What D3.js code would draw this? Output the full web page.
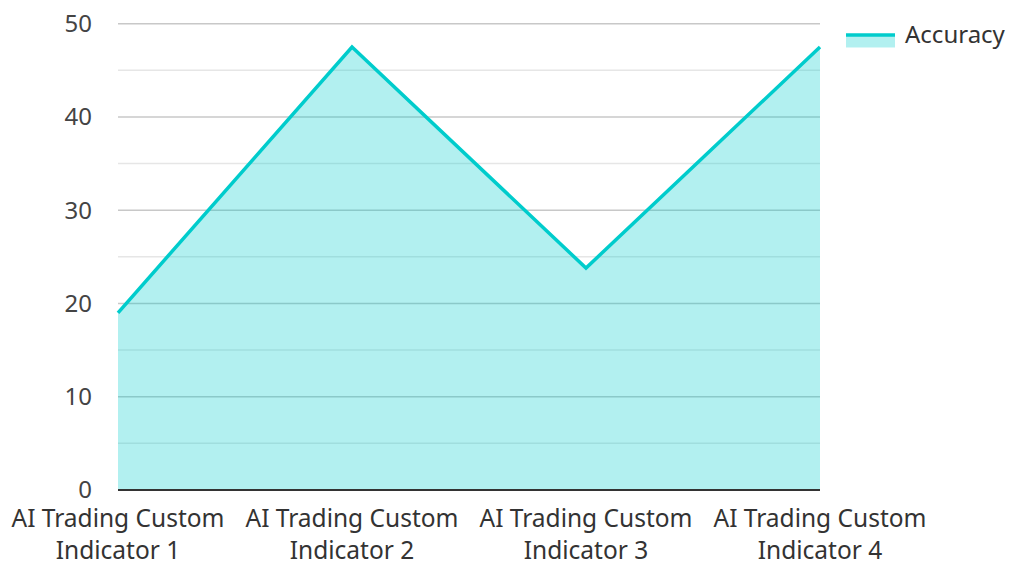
<!DOCTYPE html>
<html>
<head>
<meta charset="utf-8">
<script src="https://cdn.jsdelivr.net/npm/d3@7"></script>
<style>
  body { margin: 0; background: #fff; }
  text { font-family: "Noto Sans", sans-serif; }
</style>
</head>
<body>
<div id="chart"></div>
<script>
// chart data
const categories = ["AI Trading Custom Indicator 1", "AI Trading Custom Indicator 2",
                    "AI Trading Custom Indicator 3", "AI Trading Custom Indicator 4"];
const accuracy = [19, 47.5, 23.8, 47.5];
const yTicks = [0, 10, 20, 30, 40, 50];
const yMinorTicks = [5, 15, 25, 35, 45];
const seriesName = "Accuracy";

const width = 1010, height = 562;
const margin = { top: 23.7, right: 190, bottom: 72, left: 118 };

const svg = d3.select("#chart").append("svg")
    .attr("width", width)
    .attr("height", height);

const x = d3.scalePoint()
    .domain(categories)
    .range([margin.left, width - margin.right])
    .padding(0);

const y = d3.scaleLinear()
    .domain([0, 50])
    .range([height - margin.bottom, margin.top]);

// grid lines
svg.append("g").selectAll("line.minor")
    .data(yMinorTicks)
    .join("line")
    .attr("x1", margin.left).attr("x2", width - margin.right)
    .attr("y1", d => y(d)).attr("y2", d => y(d))
    .attr("stroke", "#e6e6e6").attr("stroke-width", 1.5);

svg.append("g").selectAll("line.major")
    .data(yTicks.filter(d => d > 0))
    .join("line")
    .attr("x1", margin.left).attr("x2", width - margin.right)
    .attr("y1", d => y(d)).attr("y2", d => y(d))
    .attr("stroke", "#c8c8c8").attr("stroke-width", 1.5);

// area + line
const pts = categories.map((c, i) => ({ c, v: accuracy[i] }));

svg.append("path")
    .datum(pts)
    .attr("fill", "#00cccc")
    .attr("fill-opacity", 0.3)
    .attr("d", d3.area().x(d => x(d.c)).y0(y(0)).y1(d => y(d.v)));

svg.append("path")
    .datum(pts)
    .attr("fill", "none")
    .attr("stroke", "#00cccc")
    .attr("stroke-width", 3.5)
    .attr("d", d3.line().x(d => x(d.c)).y(d => y(d.v)));

// baseline
svg.append("line")
    .attr("x1", margin.left).attr("x2", width - margin.right)
    .attr("y1", y(0)).attr("y2", y(0))
    .attr("stroke", "#333").attr("stroke-width", 2);

// y labels
svg.append("g").selectAll("text")
    .data(yTicks)
    .join("text")
    .attr("x", 92)
    .attr("y", d => y(d))
    .attr("dy", "0.35em")
    .attr("text-anchor", "end")
    .attr("fill", "#444")
    .style("font-size", "24px")
    .text(d => d);

// x labels, split in two lines
const xl = svg.append("g").selectAll("text")
    .data(categories)
    .join("text")
    .attr("text-anchor", "middle")
    .attr("fill", "#333")
    .style("font-size", "24.5px");

xl.each(function (d) {
    const t = d3.select(this);
    const cut = d.lastIndexOf(" ", d.lastIndexOf(" ") - 1);
    const lines = [d.slice(0, cut), d.slice(cut + 1)];
    lines.forEach((s, i) => {
        t.append("tspan")
            .attr("x", x(d))
            .attr("y", 527 + i * 32)
            .text(s);
    });
});

// legend
const lg = svg.append("g").attr("transform", "translate(846, 35)");
lg.append("rect")
    .attr("x", 0).attr("y", 0)
    .attr("width", 49).attr("height", 12.5)
    .attr("fill", "#00cccc").attr("fill-opacity", 0.3);
lg.append("line")
    .attr("x1", 0).attr("x2", 49)
    .attr("y1", 0).attr("y2", 0)
    .attr("stroke", "#00cccc").attr("stroke-width", 3.5);
lg.append("text")
    .attr("x", 59).attr("y", 0)
    .attr("dy", "0.35em")
    .attr("fill", "#333")
    .style("font-size", "24px")
    .text(seriesName);
</script>
</body>
</html>
